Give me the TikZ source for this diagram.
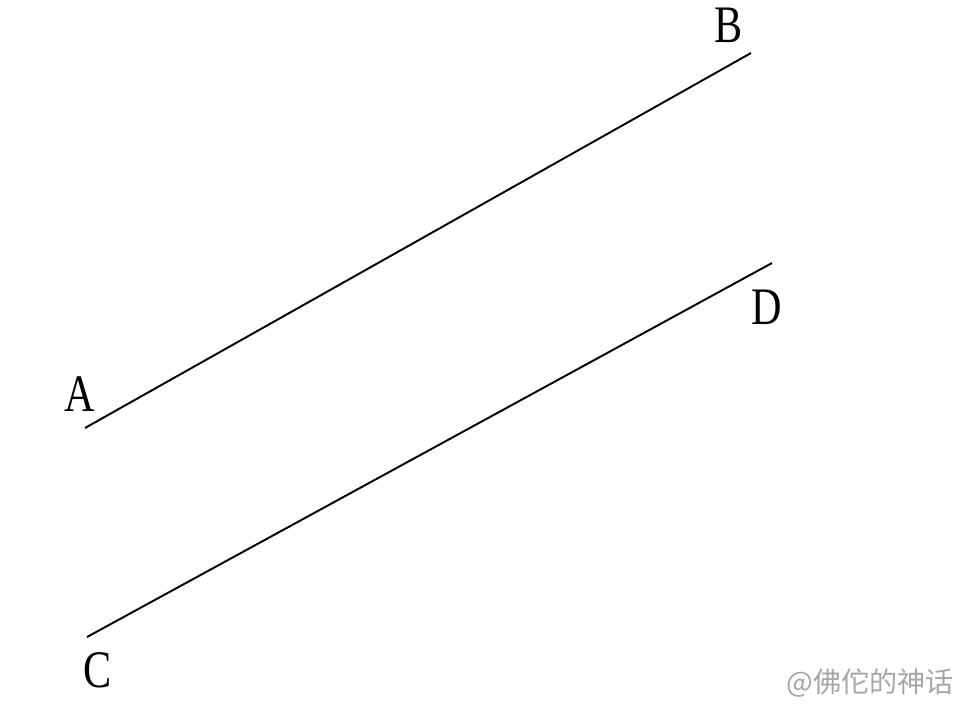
\documentclass[tikz,border=0pt]{standalone}
\usepackage{fontspec}
\setmainfont{Liberation Serif}
\newfontfamily\cjk{Noto Sans CJK SC}

\begin{document}
\begin{tikzpicture}[x=0.02cm,y=-0.02cm]
\tikzset{
  seg/.style={draw,line width=1.1pt},
  lbl/.style={inner sep=0pt,xscale=0.8,font=\fontsize{30}{30}\selectfont}
}
\useasboundingbox (0,0) rectangle (970,718);
\coordinate (A) at (85,428);
\coordinate (B) at (751,53);
\coordinate (C) at (87,637);
\coordinate (D) at (772,263);
\node[lbl] (la) at (80,394) {A};
\node[lbl] (lb) at (729,25) {B};
\node[lbl] (ld) at (767,307) {D};
\node[lbl] (lc) at (98,670) {C};
\path[seg] (A) -- (B);
\path[seg] (C) -- (D);
\node[text=gray!70,font=\cjk\fontsize{16}{16}\selectfont] (wm) at (870,683) {@佛佗的神话};
\end{tikzpicture}
\end{document}
